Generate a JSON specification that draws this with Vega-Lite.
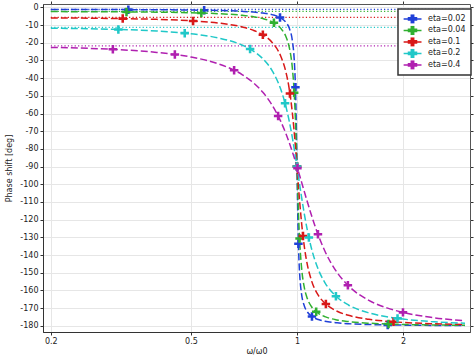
{
  "$schema": "https://vega.github.io/schema/vega-lite/v6.json",
  "width": 427,
  "height": 328,
  "autosize": {"type": "none"},
  "padding": {"left": 43, "top": 4, "right": 4, "bottom": 23},
  "config": {
    "font": "DejaVu Sans",
    "view": {"stroke": "#555", "strokeWidth": 1},
    "axis": {"labelFontSize": 8, "titleFontSize": 8, "labelColor": "#222", "titleColor": "#222", "titleFontWeight": "normal", "domainColor": "#333", "tickColor": "#333", "gridColor": "#e6e6e6", "tickSize": 3},
    "legend": {"strokeWidth": 1.5}
  },
  "datasets": {
    "asym": [
      {"s": "eta=0.02", "x0": 0.2, "x1": 3.0, "y": -1.15},
      {"s": "eta=0.04", "x0": 0.2, "x1": 3.0, "y": -2.29},
      {"s": "eta=0.1", "x0": 0.2, "x1": 3.0, "y": -5.71},
      {"s": "eta=0.2", "x0": 0.2, "x1": 3.0, "y": -11.31},
      {"s": "eta=0.4", "x0": 0.2, "x1": 3.0, "y": -21.80}
    ],
    "marks": [
      {"s": "eta=0.02", "x": 0.332, "y": -1.29},
      {"s": "eta=0.02", "x": 0.545, "y": -1.63},
      {"s": "eta=0.02", "x": 0.895, "y": -5.74},
      {"s": "eta=0.02", "x": 0.99, "y": -45.14},
      {"s": "eta=0.02", "x": 1.0, "y": -90},
      {"s": "eta=0.02", "x": 1.0095, "y": -133.67},
      {"s": "eta=0.02", "x": 1.103, "y": -174.72},
      {"s": "eta=0.02", "x": 1.81, "y": -179.5},
      {"s": "eta=0.04", "x": 0.328, "y": -2.57},
      {"s": "eta=0.04", "x": 0.535, "y": -3.21},
      {"s": "eta=0.04", "x": 0.86, "y": -8.73},
      {"s": "eta=0.04", "x": 0.982, "y": -48.25},
      {"s": "eta=0.04", "x": 1.0, "y": -90},
      {"s": "eta=0.04", "x": 1.017, "y": -130.61},
      {"s": "eta=0.04", "x": 1.134, "y": -172.04},
      {"s": "eta=0.04", "x": 1.82, "y": -179.01},
      {"s": "eta=0.1", "x": 0.32, "y": -6.36},
      {"s": "eta=0.1", "x": 0.507, "y": -7.67},
      {"s": "eta=0.1", "x": 0.8, "y": -15.53},
      {"s": "eta=0.1", "x": 0.955, "y": -48.65},
      {"s": "eta=0.1", "x": 1.0, "y": -90},
      {"s": "eta=0.1", "x": 1.04, "y": -129.21},
      {"s": "eta=0.1", "x": 1.208, "y": -167.72},
      {"s": "eta=0.1", "x": 1.88, "y": -177.74},
      {"s": "eta=0.2", "x": 0.311, "y": -12.48},
      {"s": "eta=0.2", "x": 0.48, "y": -14.57},
      {"s": "eta=0.2", "x": 0.736, "y": -23.58},
      {"s": "eta=0.2", "x": 0.925, "y": -54.17},
      {"s": "eta=0.2", "x": 1.0, "y": -90},
      {"s": "eta=0.2", "x": 1.081, "y": -130.13},
      {"s": "eta=0.2", "x": 1.29, "y": -163.24},
      {"s": "eta=0.2", "x": 1.93, "y": -175.8},
      {"s": "eta=0.4", "x": 0.3, "y": -23.73},
      {"s": "eta=0.4", "x": 0.45, "y": -26.64},
      {"s": "eta=0.4", "x": 0.663, "y": -35.52},
      {"s": "eta=0.4", "x": 0.884, "y": -61.35},
      {"s": "eta=0.4", "x": 1.003, "y": -90.86},
      {"s": "eta=0.4", "x": 1.147, "y": -128.27},
      {"s": "eta=0.4", "x": 1.395, "y": -157.08},
      {"s": "eta=0.4", "x": 2.0, "y": -172.41}
    ],
    "lines": [
      {"s": "eta=0.02", "x": 0.2, "y": -1.19},
      {"s": "eta=0.02", "x": 0.3, "y": -1.26},
      {"s": "eta=0.02", "x": 0.4, "y": -1.36},
      {"s": "eta=0.02", "x": 0.5, "y": -1.53},
      {"s": "eta=0.02", "x": 0.6, "y": -1.79},
      {"s": "eta=0.02", "x": 0.7, "y": -2.25},
      {"s": "eta=0.02", "x": 0.75, "y": -2.62},
      {"s": "eta=0.02", "x": 0.8, "y": -3.18},
      {"s": "eta=0.02", "x": 0.85, "y": -4.12},
      {"s": "eta=0.02", "x": 0.9, "y": -6.01},
      {"s": "eta=0.02", "x": 0.93, "y": -8.42},
      {"s": "eta=0.02", "x": 0.95, "y": -11.59},
      {"s": "eta=0.02", "x": 0.97, "y": -18.69},
      {"s": "eta=0.02", "x": 0.98, "y": -26.8},
      {"s": "eta=0.02", "x": 0.985, "y": -33.89},
      {"s": "eta=0.02", "x": 0.99, "y": -45.14},
      {"s": "eta=0.02", "x": 0.995, "y": -63.5},
      {"s": "eta=0.02", "x": 1.0, "y": -90},
      {"s": "eta=0.02", "x": 1.005, "y": -116.62},
      {"s": "eta=0.02", "x": 1.01, "y": -135.14},
      {"s": "eta=0.02", "x": 1.015, "y": -146.51},
      {"s": "eta=0.02", "x": 1.02, "y": -153.66},
      {"s": "eta=0.02", "x": 1.03, "y": -161.82},
      {"s": "eta=0.02", "x": 1.05, "y": -168.96},
      {"s": "eta=0.02", "x": 1.07, "y": -172.14},
      {"s": "eta=0.02", "x": 1.1, "y": -174.56},
      {"s": "eta=0.02", "x": 1.15, "y": -176.45},
      {"s": "eta=0.02", "x": 1.2, "y": -177.4},
      {"s": "eta=0.02", "x": 1.3, "y": -178.34},
      {"s": "eta=0.02", "x": 1.4, "y": -178.81},
      {"s": "eta=0.02", "x": 1.6, "y": -179.27},
      {"s": "eta=0.02", "x": 1.8, "y": -179.49},
      {"s": "eta=0.02", "x": 2.0, "y": -179.62},
      {"s": "eta=0.02", "x": 2.4, "y": -179.76},
      {"s": "eta=0.02", "x": 3.0, "y": -179.86},
      {"s": "eta=0.04", "x": 0.2, "y": -2.39},
      {"s": "eta=0.04", "x": 0.3, "y": -2.52},
      {"s": "eta=0.04", "x": 0.4, "y": -2.73},
      {"s": "eta=0.04", "x": 0.5, "y": -3.05},
      {"s": "eta=0.04", "x": 0.6, "y": -3.58},
      {"s": "eta=0.04", "x": 0.7, "y": -4.49},
      {"s": "eta=0.04", "x": 0.75, "y": -5.22},
      {"s": "eta=0.04", "x": 0.8, "y": -6.34},
      {"s": "eta=0.04", "x": 0.85, "y": -8.2},
      {"s": "eta=0.04", "x": 0.9, "y": -11.89},
      {"s": "eta=0.04", "x": 0.93, "y": -16.49},
      {"s": "eta=0.04", "x": 0.95, "y": -22.31},
      {"s": "eta=0.04", "x": 0.97, "y": -34.09},
      {"s": "eta=0.04", "x": 0.98, "y": -45.29},
      {"s": "eta=0.04", "x": 0.985, "y": -53.34},
      {"s": "eta=0.04", "x": 0.99, "y": -63.55},
      {"s": "eta=0.04", "x": 0.995, "y": -76.0},
      {"s": "eta=0.04", "x": 1.0, "y": -90},
      {"s": "eta=0.04", "x": 1.005, "y": -104.07},
      {"s": "eta=0.04", "x": 1.01, "y": -116.68},
      {"s": "eta=0.04", "x": 1.015, "y": -127.07},
      {"s": "eta=0.04", "x": 1.02, "y": -135.28},
      {"s": "eta=0.04", "x": 1.03, "y": -146.7},
      {"s": "eta=0.04", "x": 1.05, "y": -158.68},
      {"s": "eta=0.04", "x": 1.07, "y": -164.57},
      {"s": "eta=0.04", "x": 1.1, "y": -169.22},
      {"s": "eta=0.04", "x": 1.15, "y": -172.93},
      {"s": "eta=0.04", "x": 1.2, "y": -174.81},
      {"s": "eta=0.04", "x": 1.3, "y": -176.68},
      {"s": "eta=0.04", "x": 1.4, "y": -177.61},
      {"s": "eta=0.04", "x": 1.6, "y": -178.53},
      {"s": "eta=0.04", "x": 1.8, "y": -178.98},
      {"s": "eta=0.04", "x": 2.0, "y": -179.24},
      {"s": "eta=0.04", "x": 2.4, "y": -179.52},
      {"s": "eta=0.04", "x": 3.0, "y": -179.71},
      {"s": "eta=0.1", "x": 0.2, "y": -5.95},
      {"s": "eta=0.1", "x": 0.3, "y": -6.27},
      {"s": "eta=0.1", "x": 0.4, "y": -6.79},
      {"s": "eta=0.1", "x": 0.5, "y": -7.6},
      {"s": "eta=0.1", "x": 0.6, "y": -8.88},
      {"s": "eta=0.1", "x": 0.7, "y": -11.09},
      {"s": "eta=0.1", "x": 0.75, "y": -12.87},
      {"s": "eta=0.1", "x": 0.8, "y": -15.53},
      {"s": "eta=0.1", "x": 0.85, "y": -19.82},
      {"s": "eta=0.1", "x": 0.9, "y": -27.76},
      {"s": "eta=0.1", "x": 0.93, "y": -36.51},
      {"s": "eta=0.1", "x": 0.95, "y": -45.73},
      {"s": "eta=0.1", "x": 0.97, "y": -59.42},
      {"s": "eta=0.1", "x": 0.98, "y": -68.4},
      {"s": "eta=0.1", "x": 0.985, "y": -73.42},
      {"s": "eta=0.1", "x": 0.99, "y": -78.75},
      {"s": "eta=0.1", "x": 0.995, "y": -84.3},
      {"s": "eta=0.1", "x": 1.0, "y": -90},
      {"s": "eta=0.1", "x": 1.005, "y": -95.72},
      {"s": "eta=0.1", "x": 1.01, "y": -101.36},
      {"s": "eta=0.1", "x": 1.015, "y": -106.82},
      {"s": "eta=0.1", "x": 1.02, "y": -112.0},
      {"s": "eta=0.1", "x": 1.03, "y": -121.34},
      {"s": "eta=0.1", "x": 1.05, "y": -135.72},
      {"s": "eta=0.1", "x": 1.07, "y": -145.39},
      {"s": "eta=0.1", "x": 1.1, "y": -154.54},
      {"s": "eta=0.1", "x": 1.15, "y": -162.78},
      {"s": "eta=0.1", "x": 1.2, "y": -167.2},
      {"s": "eta=0.1", "x": 1.3, "y": -171.75},
      {"s": "eta=0.1", "x": 1.4, "y": -174.05},
      {"s": "eta=0.1", "x": 1.6, "y": -176.33},
      {"s": "eta=0.1", "x": 1.8, "y": -177.44},
      {"s": "eta=0.1", "x": 2.0, "y": -178.09},
      {"s": "eta=0.1", "x": 2.4, "y": -178.8},
      {"s": "eta=0.1", "x": 3.0, "y": -179.28},
      {"s": "eta=0.2", "x": 0.2, "y": -11.77},
      {"s": "eta=0.2", "x": 0.3, "y": -12.4},
      {"s": "eta=0.2", "x": 0.4, "y": -13.39},
      {"s": "eta=0.2", "x": 0.5, "y": -14.93},
      {"s": "eta=0.2", "x": 0.6, "y": -17.35},
      {"s": "eta=0.2", "x": 0.7, "y": -21.41},
      {"s": "eta=0.2", "x": 0.75, "y": -24.57},
      {"s": "eta=0.2", "x": 0.8, "y": -29.06},
      {"s": "eta=0.2", "x": 0.85, "y": -35.78},
      {"s": "eta=0.2", "x": 0.9, "y": -46.47},
      {"s": "eta=0.2", "x": 0.93, "y": -55.96},
      {"s": "eta=0.2", "x": 0.95, "y": -64.01},
      {"s": "eta=0.2", "x": 0.97, "y": -73.54},
      {"s": "eta=0.2", "x": 0.98, "y": -78.8},
      {"s": "eta=0.2", "x": 0.985, "y": -81.53},
      {"s": "eta=0.2", "x": 0.99, "y": -84.32},
      {"s": "eta=0.2", "x": 0.995, "y": -87.14},
      {"s": "eta=0.2", "x": 1.0, "y": -90},
      {"s": "eta=0.2", "x": 1.005, "y": -92.87},
      {"s": "eta=0.2", "x": 1.01, "y": -95.74},
      {"s": "eta=0.2", "x": 1.015, "y": -98.59},
      {"s": "eta=0.2", "x": 1.02, "y": -101.42},
      {"s": "eta=0.2", "x": 1.03, "y": -106.94},
      {"s": "eta=0.2", "x": 1.05, "y": -117.14},
      {"s": "eta=0.2", "x": 1.07, "y": -125.92},
      {"s": "eta=0.2", "x": 1.1, "y": -136.43},
      {"s": "eta=0.2", "x": 1.15, "y": -148.19},
      {"s": "eta=0.2", "x": 1.2, "y": -155.56},
      {"s": "eta=0.2", "x": 1.3, "y": -163.84},
      {"s": "eta=0.2", "x": 1.4, "y": -168.23},
      {"s": "eta=0.2", "x": 1.6, "y": -172.69},
      {"s": "eta=0.2", "x": 1.8, "y": -174.9},
      {"s": "eta=0.2", "x": 2.0, "y": -176.19},
      {"s": "eta=0.2", "x": 2.4, "y": -177.59},
      {"s": "eta=0.2", "x": 3.0, "y": -178.57},
      {"s": "eta=0.4", "x": 0.2, "y": -22.62},
      {"s": "eta=0.4", "x": 0.3, "y": -23.73},
      {"s": "eta=0.4", "x": 0.4, "y": -25.46},
      {"s": "eta=0.4", "x": 0.5, "y": -28.07},
      {"s": "eta=0.4", "x": 0.6, "y": -32.01},
      {"s": "eta=0.4", "x": 0.7, "y": -38.11},
      {"s": "eta=0.4", "x": 0.75, "y": -42.44},
      {"s": "eta=0.4", "x": 0.8, "y": -48.01},
      {"s": "eta=0.4", "x": 0.85, "y": -55.25},
      {"s": "eta=0.4", "x": 0.9, "y": -64.59},
      {"s": "eta=0.4", "x": 0.93, "y": -71.34},
      {"s": "eta=0.4", "x": 0.95, "y": -76.3},
      {"s": "eta=0.4", "x": 0.97, "y": -81.59},
      {"s": "eta=0.4", "x": 0.98, "y": -84.35},
      {"s": "eta=0.4", "x": 0.985, "y": -85.74},
      {"s": "eta=0.4", "x": 0.99, "y": -87.15},
      {"s": "eta=0.4", "x": 0.995, "y": -88.57},
      {"s": "eta=0.4", "x": 1.0, "y": -90},
      {"s": "eta=0.4", "x": 1.005, "y": -91.43},
      {"s": "eta=0.4", "x": 1.01, "y": -92.88},
      {"s": "eta=0.4", "x": 1.015, "y": -94.32},
      {"s": "eta=0.4", "x": 1.02, "y": -95.77},
      {"s": "eta=0.4", "x": 1.03, "y": -98.66},
      {"s": "eta=0.4", "x": 1.05, "y": -104.37},
      {"s": "eta=0.4", "x": 1.07, "y": -109.91},
      {"s": "eta=0.4", "x": 1.1, "y": -117.7},
      {"s": "eta=0.4", "x": 1.15, "y": -128.88},
      {"s": "eta=0.4", "x": 1.2, "y": -137.73},
      {"s": "eta=0.4", "x": 1.3, "y": -149.9},
      {"s": "eta=0.4", "x": 1.4, "y": -157.38},
      {"s": "eta=0.4", "x": 1.6, "y": -165.62},
      {"s": "eta=0.4", "x": 1.8, "y": -169.88},
      {"s": "eta=0.4", "x": 2.0, "y": -172.41},
      {"s": "eta=0.4", "x": 2.4, "y": -175.2},
      {"s": "eta=0.4", "x": 3.0, "y": -177.14}
    ]
  },
  "layer": [
    {
      "data": {"name": "asym"},
      "mark": {"type": "rule", "strokeDash": [1.2, 2.2], "strokeWidth": 1.3},
      "encoding": {
        "x": {"field": "x0", "type": "quantitative", "scale": {"type": "log", "domain": [0.19, 3.1], "nice": false},
              "axis": {"orient": "top", "values": [0.2, 0.5, 1, 2], "labels": false, "ticks": true, "domain": false, "grid": false, "title": null, "tickSize": 3}},
        "x2": {"field": "x1"},
        "y": {"field": "y", "type": "quantitative", "scale": {"domain": [-183.5, 1.9], "nice": false, "zero": false},
              "axis": {"orient": "right", "values": [-180, -170, -160, -150, -140, -130, -120, -110, -100, -90, -80, -70, -60, -50, -40, -30, -20, -10, 0], "labels": false, "ticks": true, "domain": false, "grid": false, "title": null, "tickSize": 3}},
        "color": {"field": "s", "type": "nominal",
          "scale": {"domain": ["eta=0.02", "eta=0.04", "eta=0.1", "eta=0.2", "eta=0.4"], "range": ["#2040d8", "#30b030", "#d81818", "#20c8c8", "#b020b0"]},
          "legend": {
            "orient": "none", "legendX": 355, "legendY": 5, "title": null,
            "strokeColor": "#333", "fillColor": "white", "padding": 5.25,
            "symbolType": "M-2.25,0H2.25M-0.3,-1H0.3V-0.3H1V0.3H0.3V1H-0.3V0.3H-1V-0.3H-0.3Z",
            "symbolSize": 64, "symbolStrokeWidth": 1.5, "symbolOffset": 4.25, "symbolDash": [],
            "clipHeight": 9.3,
            "labelOffset": 10.5, "labelFontSize": 8, "labelColor": "#222", "rowPadding": 1.5,
            "encode": {"symbols": {"update": {"stroke": {"scale": "color", "field": "value"}, "fill": {"scale": "color", "field": "value"}, "opacity": {"value": 1}, "strokeDash": {"value": []}}}}
          }
        }
      }
    },
    {
      "data": {"name": "lines"},
      "mark": {"type": "line", "strokeDash": [7, 3], "strokeWidth": 1.5, "interpolate": "monotone"},
      "encoding": {
        "x": {"field": "x", "type": "quantitative",
              "axis": {"orient": "bottom", "values": [0.2, 0.5, 1, 2], "labelExpr": "datum.value + ''", "title": "ω/ω0", "grid": true, "labelPadding": 2, "titlePadding": 2}},
        "y": {"field": "y", "type": "quantitative",
              "axis": {"orient": "left", "values": [-180, -170, -160, -150, -140, -130, -120, -110, -100, -90, -80, -70, -60, -50, -40, -30, -20, -10, 0], "labelExpr": "datum.value + ''", "title": "Phase shift [deg]", "grid": true, "labelPadding": 2, "titlePadding": 6}},
        "color": {"field": "s", "type": "nominal"},
        "detail": {"field": "s"}
      }
    },
    {
      "data": {"name": "marks"},
      "mark": {"type": "point", "filled": true, "opacity": 1, "size": 72, "shape": "M-0.3,-1H0.3V-0.3H1V0.3H0.3V1H-0.3V0.3H-1V-0.3H-0.3Z"},
      "encoding": {
        "x": {"field": "x", "type": "quantitative", "axis": null},
        "y": {"field": "y", "type": "quantitative", "axis": null},
        "color": {"field": "s", "type": "nominal"}
      }
    }
  ]
}
